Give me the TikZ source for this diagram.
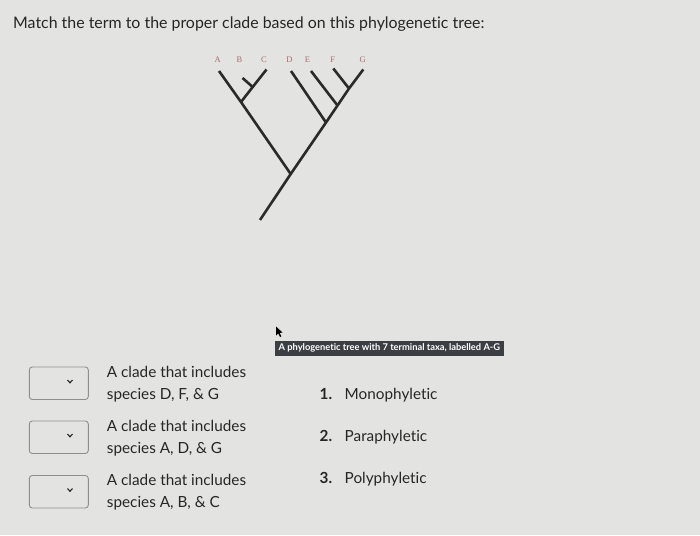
\documentclass[tikz,border=0pt]{standalone}
\usepackage{fontspec}
\setmainfont{Lato}[Ligatures=NoCommon]
\definecolor{bg}{HTML}{E3E3E1}
\definecolor{ink}{HTML}{262626}
\definecolor{branch}{HTML}{2A2A2A}
\definecolor{taxon}{HTML}{A86A6A}
\definecolor{tipbg}{HTML}{3B3E43}
\definecolor{boxline}{HTML}{8E8E8E}
\begin{document}
\begin{tikzpicture}[x=1pt,y=-1pt,
  br/.style={draw=branch,line width=2.6pt,line cap=butt},
  taxlab/.style={font=\fontspec{Liberation Serif}\fontsize{8.5}{9}\selectfont,text=taxon,inner sep=0pt},
  body/.style={font=\fontsize{15.3}{17}\selectfont,text=ink,inner sep=0pt,anchor=base west},
  num/.style={body,font=\bfseries\fontsize{15.3}{17}\selectfont},
  dropbox/.style={draw=boxline,line width=0.9pt,rounded corners=3pt,fill=bg},
  chev/.style={draw=ink,line width=1.1pt}]
\useasboundingbox (0,0) rectangle (700,535);
\fill[bg] (0,0) rectangle (700,535);
% title
\node[body,font=\fontsize{15.9}{18}\selectfont] (title) at (13,28.5) {Match the term to the proper clade based on this phylogenetic tree:};
% tree coordinates
\coordinate (base) at (260,220);
\coordinate (root) at (290.7,174);
\coordinate (abc) at (241,102);
\coordinate (bc) at (252.7,87);
\coordinate (defg) at (326,122.5);
\coordinate (efg) at (337.5,105.5);
\coordinate (fg) at (349,88.5);
\coordinate (tA) at (219,71);
\coordinate (tB) at (242.5,78);
\coordinate (tC) at (266.5,69.5);
\coordinate (tD) at (291,71);
\coordinate (tE) at (311,71);
\coordinate (tF) at (333.3,68.5);
\coordinate (tG) at (363.3,69.5);
\draw[br] (base) -- (root) -- (defg) -- (efg) -- (fg) -- (tG);
\draw[br] (root) -- (abc) -- (tA);
\draw[br] (abc) -- (bc) -- (tC);
\draw[br] (bc) -- (tB);
\draw[br] (defg) -- (tD);
\draw[br] (efg) -- (tE);
\draw[br] (fg) -- (tF);
\node[taxlab] (lA) at (217.7,60) {A};
\node[taxlab] (lB) at (239.5,60) {B};
\node[taxlab] (lC) at (264,60) {C};
\node[taxlab] (lD) at (289.5,60) {D};
\node[taxlab] (lE) at (307.5,60) {E};
\node[taxlab] (lF) at (332.7,60) {F};
\node[taxlab] (lG) at (362.7,60) {G};
% cursor
\fill[black] (276,326.5) -- (276,335.5) -- (278.3,333.4) -- (280,337) -- (281.3,336.4) -- (279.7,332.9) -- (282.6,332.6) -- cycle;
% tooltip
\node[fill=tipbg,text=white,font=\bfseries\fontsize{9.3}{10}\selectfont,inner xsep=3.5pt,inner ysep=0pt,minimum height=15.5pt,anchor=west] (tip) at (275,348.3) {A phylogenetic tree with 7 terminal taxa, labelled A-G};
% dropdowns
\foreach \n/\y in {1/367,2/421,3/475.5}{
  \draw[dropbox] (29.3,\y) rectangle (88.3,\y+32.5);
  \draw[chev] (67.5,\y+13) -- (70,\y+15.8) -- (72.5,\y+13);
}
% clade descriptions
\node[body] (q1a) at (106.7,377) {A clade that includes};
\node[body] (q1b) at (106.7,399.3) {species D, F, \& G};
\node[body] (q2a) at (106.7,431) {A clade that includes};
\node[body] (q2b) at (106.7,453.3) {species A, D, \& G};
\node[body] (q3a) at (106.7,485.3) {A clade that includes};
\node[body] (q3b) at (106.7,507.5) {species A, B, \& C};
% terms
\node[num] (n1) at (319.5,399) {1.};
\node[body] (t1) at (344.5,399) {Monophyletic};
\node[num] (n2) at (319.5,441.5) {2.};
\node[body] (t2) at (344.5,441.5) {Paraphyletic};
\node[num] (n3) at (319.5,483.5) {3.};
\node[body] (t3) at (344.5,483.5) {Polyphyletic};
\end{tikzpicture}
\end{document}
